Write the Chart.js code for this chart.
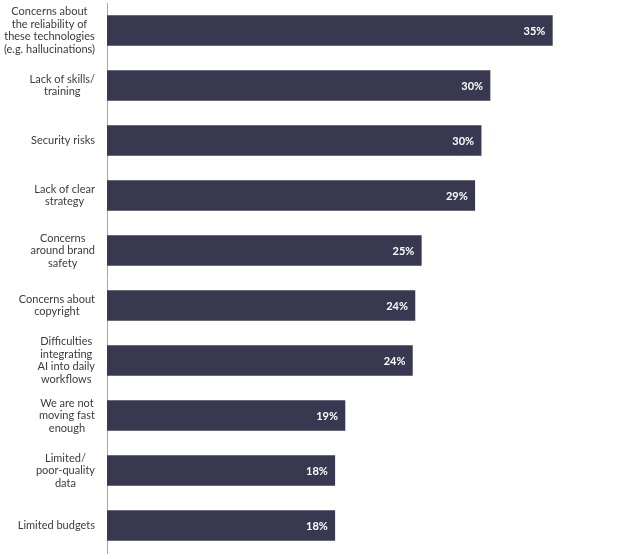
<!DOCTYPE html>
<html>
<head>
<meta charset="utf-8">
<script src="https://cdn.jsdelivr.net/npm/chart.js@4"></script>
<style>
html,body{margin:0;padding:0;background:#fff;}
#wrap{width:620px;height:559px;position:relative;}
</style>
</head>
<body>
<div id="wrap"><canvas id="barChart"></canvas></div>
<script>
// categories, each one as its wrapped lines
const categories = [
["Concerns about","the reliability of","these technologies","(e.g. hallucinations)"],
["Lack of skills/","training"],
["Security risks"],
["Lack of clear","strategy"],
["Concerns","around brand","safety"],
["Concerns about","copyright"],
["Difficulties","integrating","AI into daily","workflows"],
["We are not","moving fast","enough"],
["Limited/","poor-quality","data"],
["Limited budgets"]
];
// bar lengths
const values = [35, 30.1, 29.4, 28.9, 24.7, 24.2, 24.0, 18.7, 17.9, 17.9];
// printed value labels
const valueLabels = ["35%","30%","30%","29%","25%","24%","24%","19%","18%","18%"];

const FONT = "Lato, 'Noto Sans', sans-serif";

// category labels: each block right aligned, lines centred inside it
const catLabels = {
id:"catLabels",
afterDraw(chart){
const c = chart.ctx;
const y = chart.scales.y;
const right = 95;
const lh = 12.5;
c.save();
c.font = "11px " + FONT;
c.fillStyle = "#3b3b3b";
c.textAlign = "center";
c.textBaseline = "middle";
categories.forEach((lines,i)=>{
let w = 0;
lines.forEach(l=>{ w = Math.max(w, c.measureText(l).width); });
const cx = right - w/2;
const cy = y.getPixelForValue(i);
const top = cy - (lines.length-1)*lh/2;
lines.forEach((l,j)=>{ c.fillText(l, cx, top + j*lh); });
});
c.restore();
}
};

// value inside the bar end
const valueText = {
id:"valueText",
afterDatasetsDraw(chart){
const c = chart.ctx;
const meta = chart.getDatasetMeta(0);
c.save();
c.font = "bold 11px " + FONT;
c.fillStyle = "#ffffff";
c.textAlign = "right";
c.textBaseline = "middle";
meta.data.forEach((bar,i)=>{
c.fillText(valueLabels[i], bar.x - 7, bar.y + 1);
});
c.restore();
}
};

const ctx = document.getElementById("barChart");

new Chart(ctx,{
type:"bar",
data:{
labels:categories.map(l=>l.join(" ")),
datasets:[{
data:values,
backgroundColor:"#383950",
borderWidth:0,
barThickness:30
}]
},
options:{
indexAxis:"y",
responsive:true,
maintainAspectRatio:false,
animation:false,
layout:{padding:{top:3,bottom:6,right:4,left:0}},
plugins:{legend:{display:false},tooltip:{enabled:false}},
scales:{
x:{display:false,min:0,max:40},
y:{
afterFit(scale){ scale.width = 107; },
grid:{display:false,drawTicks:false},
border:{display:true,color:"#a8a8a8",width:1},
ticks:{display:false}
}
}
},
plugins:[catLabels,valueText]
});
</script>
</body>
</html>
